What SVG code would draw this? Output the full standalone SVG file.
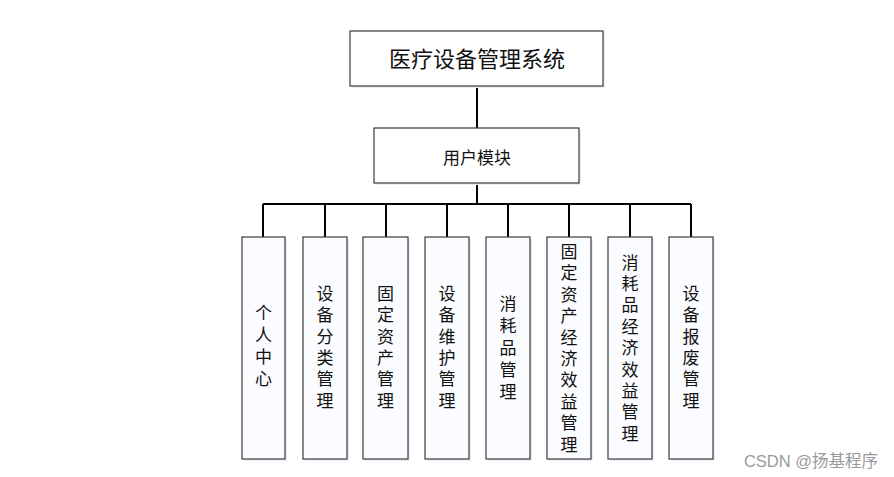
<svg xmlns="http://www.w3.org/2000/svg" width="894" height="477" viewBox="0 0 894 477">
<style>
.box{fill:#fff;stroke:#3a3a3a;stroke-width:1.2}
.shadow{fill:#e9edf5}
.tall{fill:#fbfcff;stroke:#3a3a3a;stroke-width:1.2}
.t{font-family:"Noto Sans CJK SC","Noto Sans CJK JP",sans-serif;fill:#111;text-anchor:middle}
.v{font-size:17px;writing-mode:vertical-rl;letter-spacing:4.4px}
.conn{stroke:#000;stroke-width:2;fill:none}
</style>
<rect width="894" height="477" fill="#fff"/>
<g id="connectors">
<path class="conn" d="M477 86V128M477 183V204M263 204H691M263 204V237M325 204V237M386 204V237M447 204V237M508 204V237M569 204V237M630 204V237M691 204V237"/>
</g>
<g id="root">
<rect class="shadow" x="352" y="33" width="253" height="55"/>
<rect class="box" x="350" y="31" width="253" height="55"/>
<text class="t" x="477" y="67" font-size="22">医疗设备管理系统</text>
</g>
<g id="user">
<rect class="shadow" x="376" y="130" width="205" height="55"/>
<rect class="box" x="374" y="128" width="205" height="55"/>
<text class="t" x="477" y="164" font-size="17">用户模块</text>
</g>
<g id="n1">
<rect class="shadow" x="244" y="239" width="43" height="222"/>
<rect class="tall" x="242" y="237" width="43" height="222"/>
<text class="t v" x="263.5" y="348" style="letter-spacing:5px">个人中心</text>
</g>
<g id="n2">
<rect class="shadow" x="305" y="239" width="44" height="222"/>
<rect class="tall" x="303" y="237" width="44" height="222"/>
<text class="t v" x="325" y="349">设备分类管理</text>
</g>
<g id="n3">
<rect class="shadow" x="365" y="239" width="45" height="222"/>
<rect class="tall" x="363" y="237" width="45" height="222"/>
<text class="t v" x="385.5" y="349">固定资产管理</text>
</g>
<g id="n4">
<rect class="shadow" x="427" y="239" width="44" height="222"/>
<rect class="tall" x="425" y="237" width="44" height="222"/>
<text class="t v" x="447" y="349">设备维护管理</text>
</g>
<g id="n5">
<rect class="shadow" x="488" y="239" width="44" height="222"/>
<rect class="tall" x="486" y="237" width="44" height="222"/>
<text class="t v" x="508" y="350" style="letter-spacing:5px">消耗品管理</text>
</g>
<g id="n6">
<rect class="shadow" x="549" y="239" width="44" height="222"/>
<rect class="tall" x="547" y="237" width="44" height="222"/>
<text class="t v" x="569" y="350">固定资产经济效益管理</text>
</g>
<g id="n7">
<rect class="shadow" x="610" y="239" width="44" height="222"/>
<rect class="tall" x="608" y="237" width="44" height="222"/>
<text class="t v" x="630" y="350">消耗品经济效益管理</text>
</g>
<g id="n8">
<rect class="shadow" x="671" y="239" width="44" height="222"/>
<rect class="tall" x="669" y="237" width="44" height="222"/>
<text class="t v" x="691" y="349">设备报废管理</text>
</g>
<text x="878" y="467" font-family="'Liberation Sans','Noto Sans CJK SC',sans-serif" font-size="16.5" fill="#9a9a9a" text-anchor="end">CSDN @扬基程序</text>
</svg>
